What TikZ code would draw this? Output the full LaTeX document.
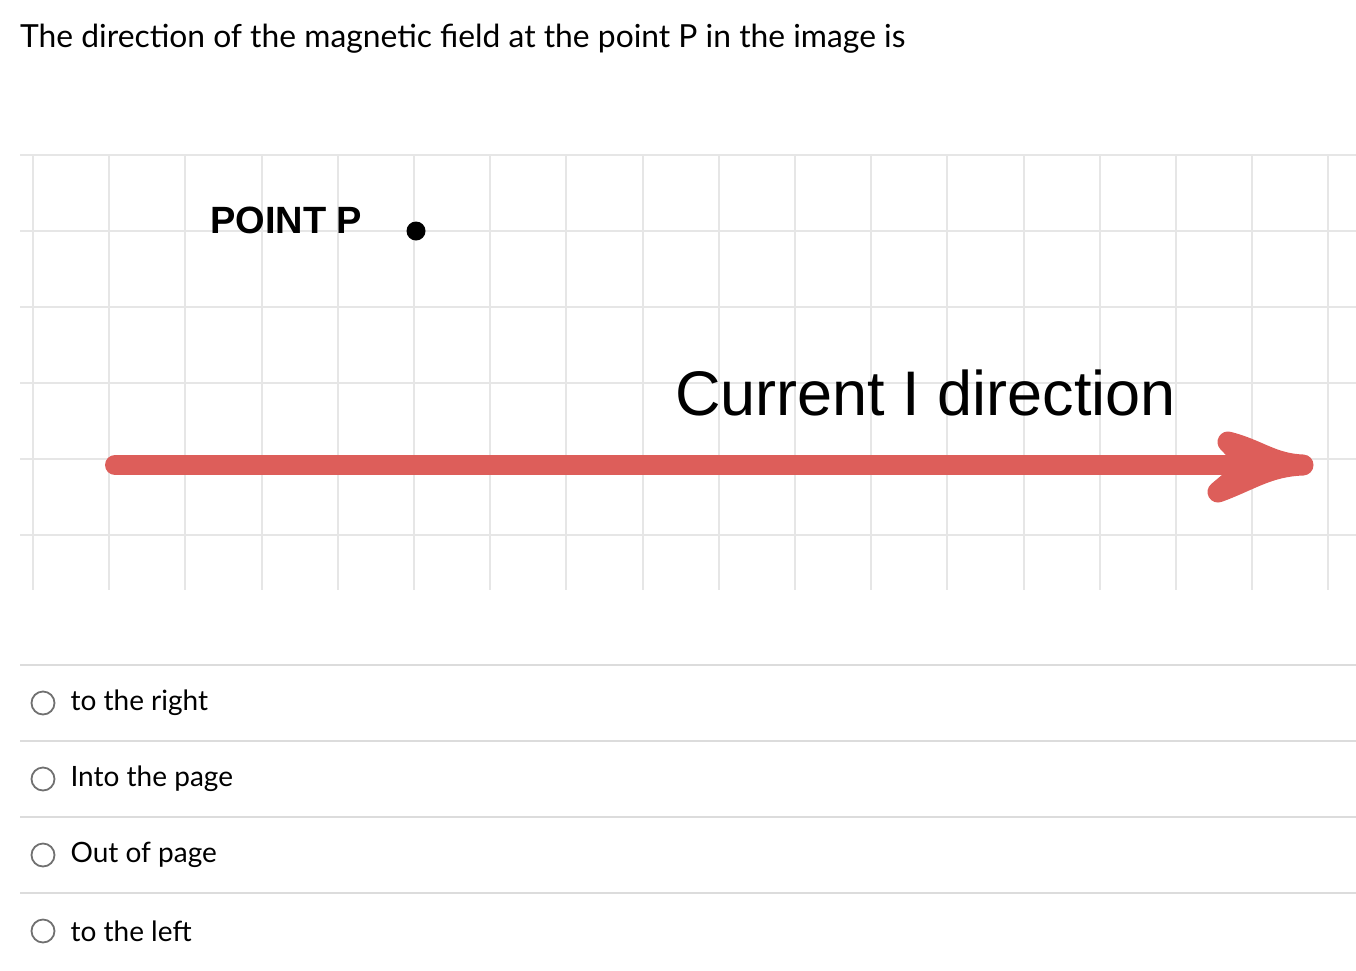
\documentclass[tikz,border=0pt]{standalone}
\usepackage{fontspec}
\setmainfont{Lato}
\newfontfamily\arialfont{Liberation Sans}
\usetikzlibrary{positioning}
\definecolor{gridgray}{HTML}{E6E6E6}
\definecolor{rulegray}{HTML}{DCDCDC}
\definecolor{radiogray}{HTML}{707070}
\definecolor{currentred}{HTML}{DD5E5A}
\tikzset{gridline/.style={draw=gridgray,line width=2pt},
	radio/.style={draw=radiogray,circle,line width=1.8pt,minimum size=23pt,inner sep=0pt},
	answer/.style={font=\fontsize{28}{32}\selectfont,inner sep=0pt,anchor=west},
	dot/.style={circle,fill=black,minimum size=19pt,inner sep=0pt}}

\begin{document}
\begin{tikzpicture}[x=1pt,y=-1pt]
	\useasboundingbox (0,0) rectangle (1356,970);
	
	\node[anchor=base west,inner sep=0pt,font=\fontsize{31.8}{36}\selectfont] (question) at (20,47) {The direction of the magnetic field at the point P in the image is};
	
	% grid
	\foreach \i in {0,...,5} \draw[gridline] (20,155+76*\i) -- (1356,155+76*\i);
	\foreach \i in {0,...,17} \draw[gridline] (33+76.2*\i,155) -- (33+76.2*\i,590);
	
	\node[anchor=base west,inner sep=0pt,font=\arialfont\bfseries\fontsize{38}{44}\selectfont] (labelp) at (210,233) {POINT P};
	\node[dot] (p) at (416,231) {};
	\node[anchor=base west,inner sep=0pt,font=\arialfont\fontsize{63}{70}\selectfont] (labeli) at (675,415) {Current I direction};
	
	% current arrow
	\coordinate (wirestart) at (115,465);
	\coordinate (wireend) at (1250,465);
	\draw[currentred,line width=20pt,line cap=round] (wirestart) -- (wireend);
	\filldraw[currentred,line width=21pt,line join=round] (1228,442) to[out=-14,in=178] (1303,465) to[out=182,in=20] (1218,492) -- (1250,465) -- cycle;
	
	% answers
	\foreach \y in {665,741,817,893} \draw[rulegray,line width=2pt] (20,\y) -- (1356,\y);
	\node[radio] (r1) at (43,703) {};
	\node[radio] (r2) at (43,779) {};
	\node[radio] (r3) at (43,855) {};
	\node[radio] (r4) at (43,931) {};
	\node[answer,right=15pt of r1] (a1) {to the right};
	\node[answer,right=15pt of r2] (a2) {Into the page};
	\node[answer,right=15pt of r3] (a3) {Out of page};
	\node[answer,right=15pt of r4] (a4) {to the left};
\end{tikzpicture}
\end{document}
